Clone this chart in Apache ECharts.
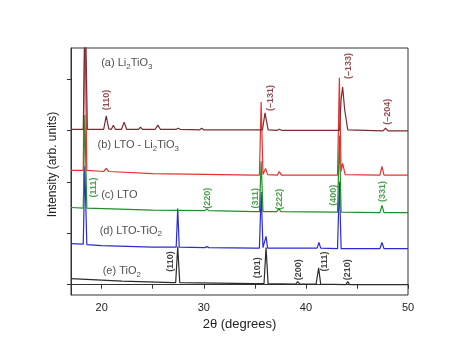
<!DOCTYPE html>
<html><head><meta charset="utf-8">
<script src="https://cdn.jsdelivr.net/npm/echarts@6/dist/echarts.min.js"></script>
<style>html,body{margin:0;padding:0;background:#fff}#c{width:474px;height:355px}</style>
</head><body><div id="c"></div>
<script>
// 2θ (degrees), intensity (arb. units, offset)
const curveA = [
 [17,3.02],[18.2,3.02],[18.4,5.5],[18.6,3.02],
 [20.2,3.02],[20.45,3.28],[20.7,3.03],
 [20.95,3.02],[21.15,3.10],[21.35,3.02],
 [21.95,3.02],[22.2,3.16],[22.45,3.02],
 [23.6,3.02],[23.8,3.06],[24.0,3.02],
 [25.25,3.02],[25.5,3.10],[25.75,3.02],
 [27.3,3.02],[27.5,3.04],[27.7,3.02],
 [29.6,3.01],[29.8,3.04],[30.0,3.01],
 [35.75,3.01],[36.0,3.34],[36.3,3.01],
 [37.2,3.0],[37.4,3.02],[37.6,3.0],
 [43.3,3.0],[43.45,3.6],[43.6,3.84],[43.8,3.4],[44.1,3.01],
 [47.55,2.99],[47.8,3.04],[48.05,2.99],
 [50,2.99]
];
const curveB = [
 [17,2.22],[18.2,2.22],[18.35,5.5],[18.55,2.22],
 [20.2,2.20],[20.45,2.26],[20.7,2.20],
 [25,2.16],[35,2.13],
 [35.45,2.13],[35.62,3.55],[35.8,2.14],
 [35.9,2.15],[36.05,2.26],[36.25,2.14],
 [37.2,2.13],[37.4,2.20],[37.6,2.13],
 [43.1,2.13],[43.28,4.02],[43.45,2.2],[43.6,2.36],[43.85,2.14],
 [47.25,2.13],[47.45,2.30],[47.65,2.13],
 [50,2.13]
];
const curveC = [
 [17,1.50],[18.2,1.49],[18.35,3.3],[18.55,1.49],
 [25,1.45],
 [30.1,1.44],[30.3,1.47],[30.5,1.44],
 [35,1.42],[35.45,1.42],[35.62,2.4],[35.8,1.42],
 [37.15,1.42],[37.35,1.48],[37.55,1.42],
 [43.1,1.41],[43.28,2.9],[43.45,1.41],
 [47.25,1.40],[47.45,1.54],[47.65,1.40],
 [50,1.40]
];
const curveD = [
 [17,0.80],[18.2,0.79],[18.35,2.3],[18.55,0.78],
 [20,0.76],[25,0.73],
 [27.3,0.73],[27.45,1.48],[27.6,0.73],
 [30.1,0.72],[30.3,0.74],[30.5,0.72],
 [35,0.71],[35.45,0.71],[35.62,1.8],[35.8,0.72],[35.95,0.72],[36.1,0.94],[36.25,0.71],
 [37.2,0.71],[37.35,0.74],[37.5,0.71],
 [39.1,0.71],[39.25,0.73],[39.4,0.71],
 [41.1,0.71],[41.28,0.82],[41.45,0.71],
 [43.1,0.70],[43.28,2.0],[43.45,0.70],
 [43.95,0.70],[44.1,0.73],[44.25,0.70],
 [47.25,0.70],[47.45,0.82],[47.65,0.70],
 [50,0.70]
];
const curveE = [
 [17,0.12],[22,0.07],[27,0.04],
 [27.25,0.04],[27.45,0.74],[27.65,0.04],
 [35,0.02],[35.9,0.02],[36.1,0.72],[36.3,0.02],
 [39.0,0.01],[39.2,0.06],[39.4,0.01],
 [41.0,0.01],[41.25,0.33],[41.45,0.01],
 [43.9,0.0],[44.1,0.06],[44.3,0.0],
 [50,0.0]
];
const labelsA = [["(110)",20.45,3.59],["(–131)",36.51,3.63],["(–133)",44.16,4.25],["(–204)",47.98,3.36]];
const labelsC = [["(111)",19.16,1.89],["(220)",30.33,1.68],["(311)",35.04,1.68],["(222)",37.39,1.66],["(400)",42.69,1.74],["(331)",47.49,1.81]];
const labelsE = [["(110)",26.71,0.45],["(101)",35.24,0.33],["(200)",39.25,0.29],["(111)",41.80,0.45],["(210)",44.06,0.29]];
const curveNames = [
 ["(a) Li{s|2}TiO{s|3}",19.95,4.31],
 ["(b) LTO - Li{s|2}TiO{s|3}",19.6,2.71],
 ["(c) LTO",19.95,1.74],
 ["(d) LTO-TiO{s|2}",19.8,1.05],
 ["(e) TiO{s|2}",20.1,0.27]
];
const xTicks = [20,25,30,35,40,45,50];
const xLabels = [20,30,40,50];
const yTicks = [0,1,2,3,4];

const FONT = "Liberation Sans";
function lineSeries(name, data, color){
  return {type:'line', name, data, showSymbol:false, symbol:'none', clip:true,
    lineStyle:{color, width:1.2}, itemStyle:{color}, silent:true, animation:false};
}
function peakLabels(list, color){
  return {type:'scatter', data:list.map(d=>({name:d[0], value:[d[1],d[2]]})),
    symbolSize:0.1, itemStyle:{color:'transparent'}, silent:true, animation:false, z:10,
    label:{show:true, position:'inside', rotate:90, formatter:p=>p.name,
      color, fontFamily:FONT, fontSize:9, fontWeight:'bold'}};
}
const chart = echarts.init(document.getElementById('c'), null, {renderer:'canvas'});
chart.setOption({
  backgroundColor:'#fff',
  animation:false,
  grid:{left:71, right:66, top:48, bottom:60, show:true, borderColor:'#333', borderWidth:1, backgroundColor:'transparent'},
  xAxis:{type:'value', min:17, max:50,
    name:'2θ (degrees)', nameLocation:'middle', nameGap:21,
    nameTextStyle:{fontFamily:FONT, fontSize:13, color:'#222'},
    axisLine:{show:true, lineStyle:{color:'#333', width:1}},
    axisTick:{show:true, length:4, inside:false, customValues:xTicks, lineStyle:{color:'#333'}},
    axisLabel:{customValues:xLabels, fontFamily:FONT, fontSize:11, color:'#222', margin:7},
    splitLine:{show:false}},
  yAxis:{type:'value', min:-0.2, max:4.6,
    name:'Intensity (arb. units)', nameLocation:'middle', nameGap:12,
    nameTextStyle:{fontFamily:FONT, fontSize:12, color:'#222', padding:[0,0,0,14]},
    axisLine:{show:true, lineStyle:{color:'#333', width:1}},
    axisTick:{show:true, length:4, inside:false, customValues:yTicks, lineStyle:{color:'#333'}},
    axisLabel:{show:false},
    splitLine:{show:false}},
  series:[
    lineSeries('e', curveE, '#2b2b2b'),
    lineSeries('d', curveD, '#2a2ad6'),
    lineSeries('c', curveC, '#1f8f2a'),
    lineSeries('b', curveB, '#e8322f'),
    lineSeries('a', curveA, '#7a2b33'),
    peakLabels(labelsA, '#7a1a22'),
    peakLabels(labelsC, '#1f8a1f'),
    peakLabels(labelsE, '#111'),
    {type:'scatter', data:curveNames.map(d=>({name:d[0], value:[d[1],d[2]]})),
      symbolSize:0.1, itemStyle:{color:'transparent'}, silent:true, animation:false, z:10,
      label:{show:true, position:'right', distance:0, formatter:p=>p.name,
        color:'#222', fontFamily:FONT, fontSize:11,
        rich:{s:{fontFamily:FONT, fontSize:8, color:'#222', verticalAlign:'bottom', padding:[7,0,0,0]}}}}
  ]
});
</script></body></html>
